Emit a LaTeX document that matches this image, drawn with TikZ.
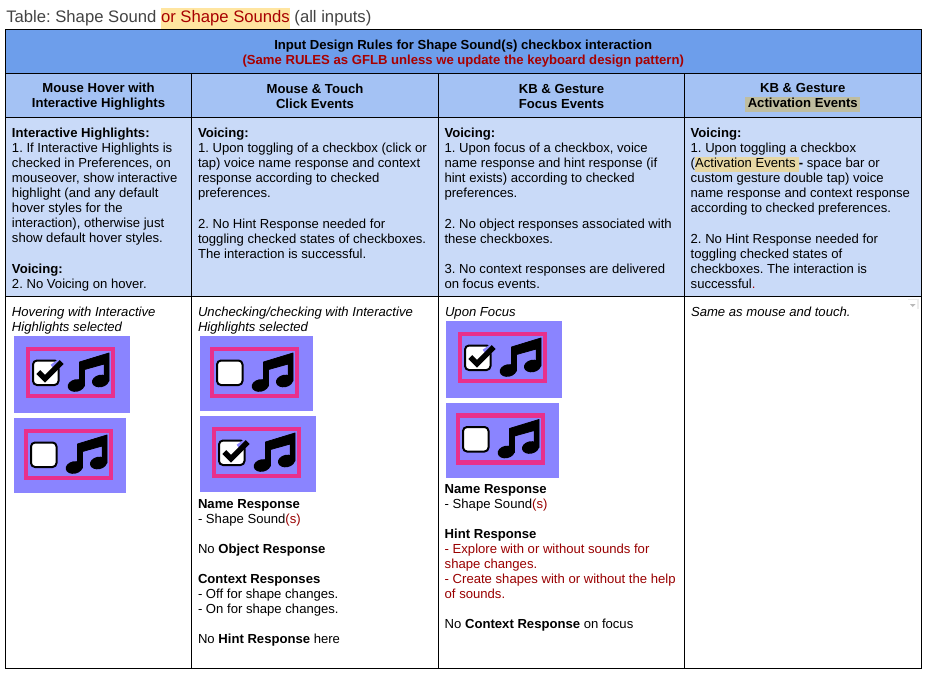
\documentclass[tikz,border=0pt]{standalone}
\usepackage{fontspec}
\usepackage{xcolor}
\setmainfont{Liberation Sans}
\usetikzlibrary{positioning}
\AtBeginDocument{\frenchspacing}

\definecolor{headblue}{HTML}{6D9EEB}
\definecolor{subblue}{HTML}{A4C2F4}
\definecolor{bodyblue}{HTML}{C9DAF8}
\definecolor{titlegray}{HTML}{434343}
\definecolor{ruleRed}{HTML}{A80000}
\definecolor{darkRed}{HTML}{990000}
\definecolor{titleMark}{HTML}{FFE5A0}
\definecolor{headMark}{HTML}{BFBD9F}
\definecolor{bodyMark}{HTML}{E6D7A4}
\definecolor{iconbg}{HTML}{8A84FF}
\definecolor{iconpink}{HTML}{E8308C}

\newcommand{\pxu}{0.75pt}
\newcommand{\markup}[2]{{\setlength{\fboxsep}{0pt}\colorbox{#1}{\rule[-3.4pt]{0pt}{11.25pt}#2}}}
\newcommand{\gap}{\\[11.75pt]}
\newcommand{\blank}{\\[11.25pt]}

\tikzset{
    pics/soundicon/.style={code={
        \draw[iconpink, line width=4.5*\pxu] (2.2,2.2) rectangle (87,49);
        \draw[black, fill=white, line width=2*\pxu, rounded corners=3pt] (7,13.5) rectangle (32.5,38);
        \fill[black, rotate around={12:(50.2,38.5)}] (50.2,38.5) ellipse [x radius=8.6, y radius=6.2];
        \fill[black, rotate around={12:(74.5,34)}] (74.5,34) ellipse [x radius=8.6, y radius=6.2];
        \filldraw[black, line width=0.8*\pxu, line join=round] (53.5,39) -- (53.5,15) -- (83,6) -- (83,34) -- (78.2,34) -- (78.2,17) -- (58.5,22.5) -- (58.5,39) -- cycle;
    }},
    pics/tickmark/.style={code={
        \draw[iconbg, line width=8*\pxu] (27,21) -- (36,14.5);
        \draw[black, line width=5.4*\pxu] (12.3,25) -- (19,31.7) -- (35.7,15);
    }}
}

\begin{document}
\begin{tikzpicture}[
    x=\pxu, y=-\pxu,
    cell/.style={rectangle, draw=black, line width=1*\pxu, inner sep=0pt, outer sep=0pt, anchor=north west},
    headcell/.style={cell, fill=headblue, minimum width=915.5*\pxu, minimum height=44*\pxu},
    subcell/.style={cell, fill=subblue, minimum height=43.5*\pxu},
    bodycell/.style={cell, fill=bodyblue, minimum height=179*\pxu},
    shotcell/.style={cell, fill=white, minimum height=372*\pxu},
    headtext/.style={inner sep=0pt, outer sep=0pt, align=center, font=\bfseries\fontsize{9.83}{11.25}\selectfont},
    celltext/.style={inner sep=0pt, outer sep=0pt, anchor=north west, align=left, font=\fontsize{9.83}{11.25}\selectfont},
    shottext/.style={celltext, font=\itshape\fontsize{9.83}{11.25}\selectfont},
    iconbox/.style={rectangle, fill=iconbg, inner sep=0pt, outer sep=0pt, anchor=north west}
]
\useasboundingbox (0,0) rectangle (928,674);

% Title over the table
\node[inner sep=0pt, anchor=base west, font=\fontsize{12.5}{14}\selectfont, text=titlegray] (tabletitle) at (6,23)
    {Table: Shape Sound {\setlength{\fboxsep}{0pt}\colorbox{titleMark}{\rule[-4.6pt]{0pt}{15.75pt}\textcolor{ruleRed}{or Shape Sounds}}} (all inputs)};

% Table cells
\node[headcell] (rules) at (5.5,29.5) {};

\node[subcell, minimum width=186*\pxu] (hoverhead) at (rules.south west) {};
\node[subcell, minimum width=247*\pxu, right=0pt of hoverhead, anchor=west] (clickhead) {};
\node[subcell, minimum width=246*\pxu, right=0pt of clickhead, anchor=west] (focushead) {};
\node[subcell, minimum width=236.5*\pxu, right=0pt of focushead, anchor=west] (activehead) {};

\node[bodycell, minimum width=186*\pxu] (hoverrules) at (hoverhead.south west) {};
\node[bodycell, minimum width=247*\pxu, right=0pt of hoverrules, anchor=west] (clickrules) {};
\node[bodycell, minimum width=246*\pxu, right=0pt of clickrules, anchor=west] (focusrules) {};
\node[bodycell, minimum width=236.5*\pxu, right=0pt of focusrules, anchor=west] (activerules) {};

\node[shotcell, minimum width=186*\pxu] (hovershots) at (hoverrules.south west) {};
\node[shotcell, minimum width=247*\pxu, right=0pt of hovershots, anchor=west] (clickshots) {};
\node[shotcell, minimum width=246*\pxu, right=0pt of clickshots, anchor=west] (focusshots) {};
\node[shotcell, minimum width=236.5*\pxu, right=0pt of focusshots, anchor=west] (activeshots) {};

% Heading text
\node[headtext, yshift=-1.5pt] (rulestitle) at (rules.center) {Input Design Rules for Shape Sound(s) checkbox interaction\\
    \textcolor{ruleRed}{(Same RULES as GFLB unless we update the keyboard design pattern)}};
\node[headtext, yshift=-1.1pt] (hovertitle) at (hoverhead.center) {Mouse Hover with\\Interactive Highlights};
\node[headtext, yshift=-1.1pt] (clicktitle) at (clickhead.center) {Mouse \& Touch\\Click Events};
\node[headtext, yshift=-1.1pt] (focustitle) at (focushead.center) {KB \& Gesture\\Focus Events};
\node[headtext, yshift=-1.8pt] (activetitle) at (activehead.center) {KB \& Gesture\\\markup{headMark}{\hspace{2pt}Activation Events\hspace{2pt}}};

% Rules text
\node[celltext] (hoverrulestext) at (12,128) {\textbf{Interactive Highlights:}\\
    1. If Interactive Highlights is\\checked in Preferences, on\\mouseover, show interactive\\highlight (and any default\\hover styles for the\\interaction), otherwise just\\show default hover styles.\gap
    \textbf{Voicing:}\\2. No Voicing on hover.};
\node[celltext] (clickrulestext) at (198,128) {\textbf{Voicing:}\\
    1. Upon toggling of a checkbox (click or\\tap) voice name response and context\\response according to checked\\preferences.\gap
    2. No Hint Response needed for\\toggling checked states of checkboxes.\\The interaction is successful.};
\node[celltext] (focusrulestext) at (444.5,128) {\textbf{Voicing:}\\
    1. Upon focus of a checkbox, voice\\name response and hint response (if\\hint exists) according to checked\\preferences.\gap
    2. No object responses associated with\\these checkboxes.\gap
    3. No context responses are delivered\\on focus events.};
\node[celltext] (activerulestext) at (690.7,128) {\textbf{Voicing:}\\
    1. Upon toggling a checkbox\\(\markup{bodyMark}{Activation Events\hspace{2.5pt}}\textbf{-} space bar or\\custom gesture double tap) voice\\name response and context response\\according to checked preferences.\gap
    2. No Hint Response needed for\\toggling checked states of\\checkboxes. The interaction is\\successful\textcolor{ruleRed}{.}};

% Captions of the screenshots
\node[shottext] (hovercaption) at (12,307) {Hovering with Interactive\\Highlights selected};
\node[shottext] (clickcaption) at (198,307) {Unchecking/checking with Interactive\\Highlights selected};
\node[shottext] (focuscaption) at (445,307) {Upon Focus};
\node[shottext] (activecaption) at (691,307) {Same as mouse and touch.};

% Screenshots
\node[iconbox, minimum width=116*\pxu, minimum height=77*\pxu] (hovertickbg) at (14,336) {};
\pic (hovertick) at (26,347) {soundicon};
\pic (hovertickmark) at (26,347) {tickmark};
\node[iconbox, minimum width=112*\pxu, minimum height=74.5*\pxu] (hoverplainbg) at (14,418) {};
\pic (hoverplain) at (24,429) {soundicon};

\node[iconbox, minimum width=112.5*\pxu, minimum height=75*\pxu] (clickplainbg) at (200,336) {};
\pic (clickplain) at (210,347) {soundicon};
\node[iconbox, minimum width=116*\pxu, minimum height=76*\pxu] (clicktickbg) at (200,416) {};
\pic (clicktick) at (212,427) {soundicon};
\pic (clicktickmark) at (212,427) {tickmark};

\node[iconbox, minimum width=116*\pxu, minimum height=76.5*\pxu] (focustickbg) at (446,321) {};
\pic (focustick) at (458,332) {soundicon};
\pic (focustickmark) at (458,332) {tickmark};
\node[iconbox, minimum width=113*\pxu, minimum height=74.5*\pxu] (focusplainbg) at (446,403) {};
\pic (focusplain) at (456,413.5) {soundicon};

% Response text
\node[celltext] (clickresponses) at (198,499) {\textbf{Name Response}\\- Shape Sound\textcolor{darkRed}{(s)}\blank
    No \textbf{Object Response}\blank
    \textbf{Context Responses}\\- Off for shape changes.\\- On for shape changes.\blank
    No \textbf{Hint Response} here};
\node[celltext] (focusresponses) at (444.7,484) {\textbf{Name Response}\\- Shape Sound\textcolor{darkRed}{(s)}\blank
    \textbf{Hint Response}\\\textcolor{darkRed}{- Explore with or without sounds for}\\\textcolor{darkRed}{shape changes.}\\\textcolor{darkRed}{- Create shapes with or without the help}\\\textcolor{darkRed}{of sounds.}\blank
    No \textbf{Context Response} on focus};

% Scroll corner of the sheet
\draw[gray!15, line width=1.2*\pxu] (908,299.5) -- (918,299.5) -- (918,309);
\fill[gray!55] (910,304) -- (915.5,304) -- (912.7,307) -- cycle;
\end{tikzpicture}
\end{document}
